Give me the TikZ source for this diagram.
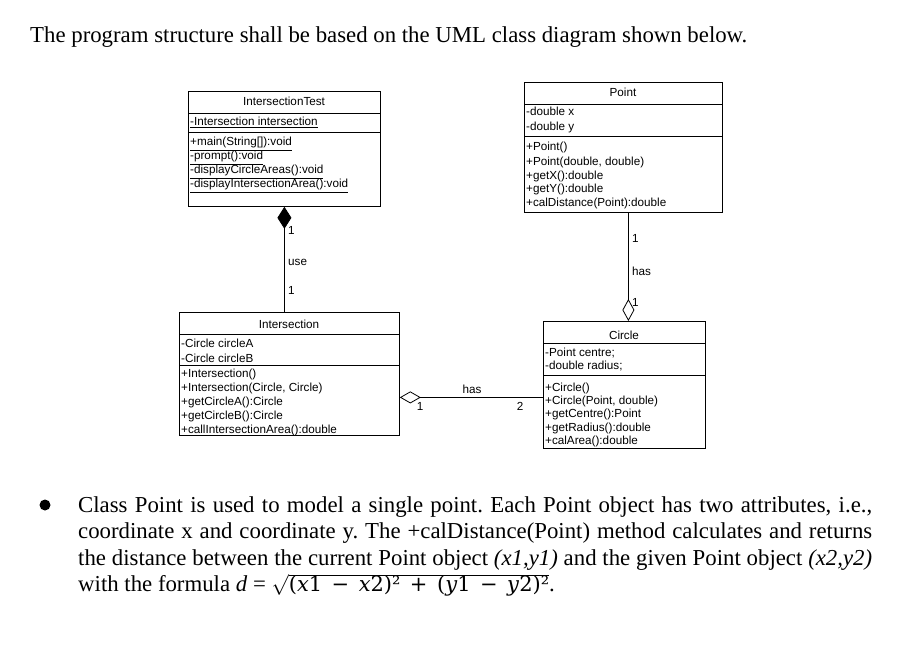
\documentclass[tikz,border=0pt]{standalone}
\usepackage{fontspec}
\setmainfont{Liberation Serif}
\newfontfamily\umlfont{Liberation Sans}
\newfontfamily\formfont{DejaVu Serif}
\usetikzlibrary{arrows.meta}
\newcommand{\opgap}{\hspace{0.45em}}
\begin{document}
\frenchspacing
\begin{tikzpicture}[x=1pt,y=-1pt,
  classbox/.style={draw, line width=0.8pt, rectangle, inner sep=0pt, anchor=north west},
  sepline/.style={line width=0.8pt},
  umltxt/.style={inner sep=0pt, font=\umlfont\fontsize{11.7}{13}\selectfont},
  member/.style={umltxt, anchor=base west},
  ctitle/.style={umltxt, anchor=base},
  conn/.style={line width=0.8pt},
  bigtxt/.style={inner sep=0pt, font=\fontsize{22.8}{26.6}\selectfont},
  paraline/.style={bigtxt, anchor=base west}
]
\useasboundingbox (0,0) rectangle (916,650);

% header
\node[bigtxt, anchor=base west] (head) at (30,43) {The program structure shall be based on the UML class diagram shown below.};

% IntersectionTest
\node[classbox, minimum width=192pt, minimum height=115pt] (it) at (188,91) {};
\draw[sepline] (188,113) -- (380,113);
\draw[sepline] (188,132) -- (380,132);
\node[ctitle] (itt) at (284,106) {IntersectionTest};
\node[member] (ita) at (190,126) {\underline{-Intersection intersection}};
\node[member] (itm1) at (190,146) {\underline{+main(String[]):void}};
\node[member] (itm2) at (190,160) {\underline{-prompt():void}};
\node[member] (itm3) at (190,174) {\underline{-displayCircleAreas():void}};
\node[member] (itm4) at (190,188) {\underline{-displayIntersectionArea():void}};

% Point
\node[classbox, minimum width=198pt, minimum height=130pt] (pt) at (524,82) {};
\draw[sepline] (524,104) -- (722,104);
\draw[sepline] (524,136) -- (722,136);
\node[ctitle] (ptt) at (623,97) {Point};
\node[member] (pta1) at (526,116) {-double x};
\node[member] (pta2) at (526,131) {-double y};
\node[member] (ptm1) at (526,151) {+Point()};
\node[member] (ptm2) at (526,165) {+Point(double, double)};
\node[member] (ptm3) at (526,179) {+getX():double};
\node[member] (ptm4) at (526,193) {+getY():double};
\node[member] (ptm5) at (526,207) {+calDistance(Point):double};

% Intersection
\node[classbox, minimum width=220pt, minimum height=123pt] (is) at (179,312) {};
\draw[sepline] (179,334) -- (399,334);
\draw[sepline] (179,365) -- (399,365);
\node[ctitle] (ist) at (289,328) {Intersection};
\node[member] (isa1) at (181,347) {-Circle circleA};
\node[member] (isa2) at (181,362) {-Circle circleB};
\node[member] (ism1) at (181,377) {+Intersection()};
\node[member] (ism2) at (181,391) {+Intersection(Circle, Circle)};
\node[member] (ism3) at (181,405) {+getCircleA():Circle};
\node[member] (ism4) at (181,419) {+getCircleB():Circle};
\node[member] (ism5) at (181,433) {+callIntersectionArea():double};

% Circle
\node[classbox, minimum width=162pt, minimum height=127pt] (ci) at (543,321) {};
\draw[sepline] (543,343) -- (705,343);
\draw[sepline] (543,375) -- (705,375);
\node[ctitle] (cit) at (624,339) {Circle};
\node[member] (cia1) at (545,356) {-Point centre;};
\node[member] (cia2) at (545,369) {-double radius;};
\node[member] (cim1) at (545,391) {+Circle()};
\node[member] (cim2) at (545,404) {+Circle(Point, double)};
\node[member] (cim3) at (545,417) {+getCentre():Point};
\node[member] (cim4) at (545,431) {+getRadius():double};
\node[member] (cim5) at (545,444) {+calArea():double};

% connectors
\draw[conn, {Diamond[length=22pt,width=14pt]}-] (it.south) -- (it.south |- is.north);
\node[member, anchor=west] (u1) at (288,230) {1};
\node[member, anchor=west] (use) at (288,262) {use};
\node[member, anchor=west] (u2) at (288,290) {1};

\draw[conn, {Diamond[open,length=22pt,width=12pt]}-] ([xshift=4pt]ci.north) -- ([xshift=4pt]ci.north |- pt.south);
\node[member, anchor=west] (h1) at (632,238) {1};
\node[member, anchor=west] (has1) at (632,271) {has};
\node[member, anchor=west] (h2) at (632,302) {1};

\draw[conn, {Diamond[open,length=21pt,width=12pt]}-] ([yshift=-23.5pt]is.east) -- ([yshift=-23.5pt]is.east -| ci.west);
\node[umltxt] (has2) at (472,389) {has};
\node[umltxt] (m1) at (420,406) {1};
\node[umltxt] (m2) at (520,406) {2};

% bullet paragraph
\node[circle, fill, inner sep=0pt, minimum size=11pt] (bullet) at (45,505) {};
\node[paraline] (p1) at (78,512) {\makebox[794pt][s]{Class Point is used to model a single point. Each Point object has two attributes, i.e.,}};
\node[paraline] (p2) at (78,538.5) {\makebox[794pt][s]{coordinate x and coordinate y. The +calDistance(Point) method calculates and returns}};
\node[paraline] (p3) at (78,565) {\makebox[794pt][s]{the distance between the current Point object \textit{(x1,y1)} and the given Point object \textit{(x2,y2)}}};
\node[paraline] (p4) at (78,591.5) {with the formula \textit{d} = $\sqrt{\raisebox{0pt}[15pt][4pt]{\formfont\fontsize{21}{24}\selectfont(\textit{x}1\opgap−\opgap\textit{x}2)²\opgap+\opgap(\textit{y}1\opgap−\opgap\textit{y}2)²}}$.};
\end{tikzpicture}
\end{document}
